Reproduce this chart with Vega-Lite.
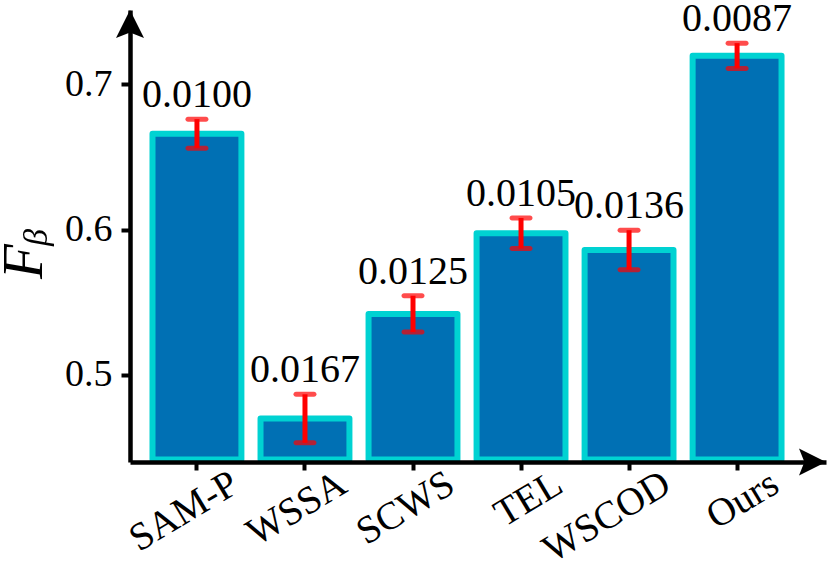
{
  "$schema": "https://vega.github.io/schema/vega-lite/v6.json",
  "width": 696,
  "height": 452,
  "autosize": {"type": "none"},
  "padding": {"left": 130, "top": 10, "right": 5, "bottom": 105},
  "background": "white",
  "config": {"view": {"stroke": null}, "font": "Times New Roman, Liberation Serif, Times, serif"},
  "data": {
    "values": [
      {"method": "SAM-P", "value": 0.666, "lo": 0.656, "hi": 0.676, "label": "0.0100"},
      {"method": "WSSA", "value": 0.470, "lo": 0.4533, "hi": 0.4867, "label": "0.0167"},
      {"method": "SCWS", "value": 0.542, "lo": 0.5295, "hi": 0.5545, "label": "0.0125"},
      {"method": "TEL", "value": 0.5975, "lo": 0.587, "hi": 0.608, "label": "0.0105"},
      {"method": "WSCOD", "value": 0.586, "lo": 0.5724, "hi": 0.5996, "label": "0.0136"},
      {"method": "Ours", "value": 0.7196, "lo": 0.7109, "hi": 0.7283, "label": "0.0087"}
    ]
  },
  "encoding": {
    "x": {
      "field": "method",
      "type": "nominal",
      "sort": null,
      "scale": {"paddingInner": 0.177, "paddingOuter": 0.31, "align": 0.336},
      "axis": {
        "title": null,
        "zindex": 1,
        "domainColor": "black",
        "domainWidth": 4.5,
        "tickColor": "black",
        "tickWidth": 4,
        "tickSize": 8,
        "labelAngle": -31,
        "labelAlign": "right",
        "labelBaseline": "middle",
        "labelFontSize": 39,
        "labelColor": "black",
        "labelPadding": 10,
        "labelOffset": 38,
        "labelOverlap": false,
        "labelBound": false
      }
    }
  },
  "layer": [
    {
      "mark": {"type": "bar", "fill": "#0070B4", "stroke": "#00D2D2", "strokeWidth": 6, "strokeJoin": "round"},
      "encoding": {
        "y": {
          "field": "value",
          "type": "quantitative",
          "title": "Fᵦ",
          "scale": {"domain": [0.4401, 0.7511], "zero": false, "nice": false},
          "axis": {
            "zindex": 1,
            "values": [0.5, 0.6, 0.7],
            "format": ".1f",
            "grid": false,
            "domainColor": "black",
            "domainWidth": 4.5,
            "tickColor": "black",
            "tickWidth": 4,
            "tickSize": 9,
            "labelFontSize": 38,
            "labelColor": "black",
            "labelPadding": 9,
            "titleFontStyle": "italic",
            "titleFontWeight": "normal",
            "titleFontSize": 57,
            "titleColor": "black",
            "titleAngle": -90,
            "titleBaseline": "alphabetic",
            "titleAlign": "center",
            "titleX": -89,
            "titleY": 243
          }
        },
        "y2": {"datum": 0.4418}
      }
    },
    {
      "mark": {
        "type": "errorbar",
        "color": "#FF0000",
        "rule": {"strokeWidth": 5, "color": "#FF0000"},
        "ticks": {"size": 23, "thickness": 5, "color": "#FF0000", "cornerRadius": 2.5}
      },
      "encoding": {
        "y": {"field": "lo", "type": "quantitative", "title": "Fᵦ"},
        "y2": {"field": "hi"}
      }
    },
    {
      "mark": {"type": "text", "fontSize": 40, "baseline": "alphabetic", "dy": -12, "color": "black"},
      "encoding": {
        "y": {"field": "hi", "type": "quantitative", "title": "Fᵦ"},
        "text": {"field": "label"}
      }
    },
    {
      "data": {"values": [{"arrow": "y"}]},
      "mark": {"type": "point", "filled": true, "color": "black", "opacity": 1, "strokeWidth": 0, "shape": "M0,0L1,2L0,1.6L-1,2Z", "size": 784},
      "encoding": {"x": {"value": 0}, "y": {"value": 0}}
    },
    {
      "data": {"values": [{"arrow": "x"}]},
      "mark": {"type": "point", "filled": true, "color": "black", "opacity": 1, "strokeWidth": 0, "shape": "M0,0L-2,-1L-1.6,0L-2,1Z", "size": 729},
      "encoding": {"x": {"value": "width"}, "y": {"value": "height"}}
    }
  ]
}
